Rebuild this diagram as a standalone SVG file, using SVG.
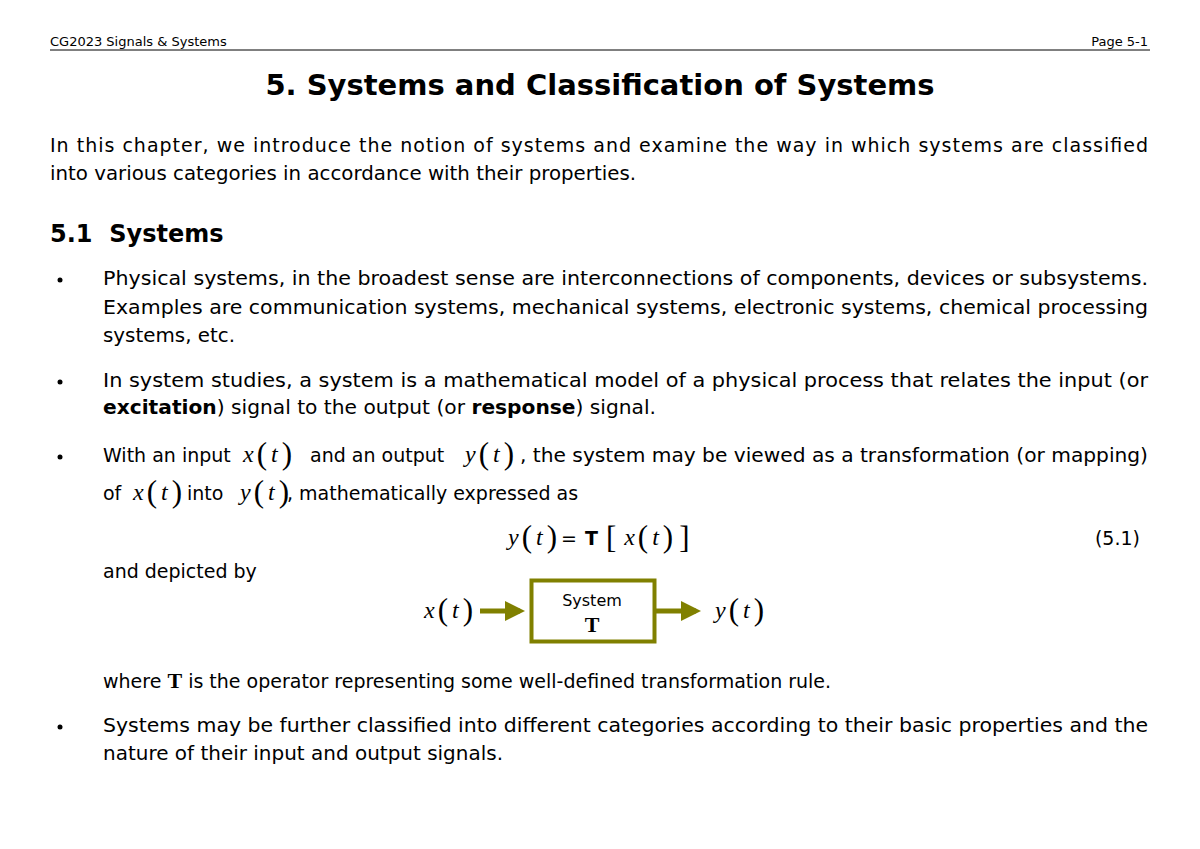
<svg xmlns="http://www.w3.org/2000/svg" width="1200" height="849" viewBox="0 0 1200 849">
<defs>
<style>
.t{font-family:"DejaVu Sans",sans-serif;font-size:19px;fill:#000;font-style:normal}
.b{font-weight:bold}
.m{font-family:"Liberation Serif",serif;font-size:24px;font-style:italic;fill:#000}
.p{font-family:"Liberation Serif",serif;font-size:31px;font-weight:normal;font-style:normal;fill:#000}
.ln{stroke:#808000;stroke-width:5;fill:none}
</style>
<marker id="ah" markerWidth="4" markerHeight="4" refX="3" refY="2" orient="auto" markerUnits="strokeWidth"><path d="M0,0 L4,2 L0,4 z" fill="#808000"/></marker>
</defs>
<rect width="1200" height="849" fill="#fff"/>
<text x="50" y="46" class="t" style="font-size:13px">CG2023 Signals &amp; Systems</text>
<text x="1148" y="46" class="t" style="font-size:13px" text-anchor="end">Page 5-1</text>
<line x1="50" y1="50" x2="1150" y2="50" stroke="#000" stroke-width="1"/>
<text x="600" y="95" class="t b" style="font-size:29px" text-anchor="middle">5. Systems and Classification of Systems</text>
<text x="50" y="152" class="t" textLength="1098" lengthAdjust="spacing">In this chapter, we introduce the notion of systems and examine the way in which systems are classified</text>
<text x="50" y="180" class="t" textLength="586" lengthAdjust="spacingAndGlyphs">into various categories in accordance with their properties.</text>
<text x="50" y="242" class="t b" style="font-size:24px" xml:space="preserve">5.1  Systems</text>
<g class="t">
<circle cx="60" cy="280" r="2.5"/>
<circle cx="60" cy="382" r="2.5"/>
<circle cx="60" cy="457" r="2.5"/>
<circle cx="60" cy="727" r="2.5"/>
</g>
<text x="103" y="285" class="t" textLength="1045" lengthAdjust="spacingAndGlyphs">Physical systems, in the broadest sense are interconnections of components, devices or subsystems.</text>
<text x="103" y="314" class="t" textLength="1045" lengthAdjust="spacingAndGlyphs">Examples are communication systems, mechanical systems, electronic systems, chemical processing</text>
<text x="103" y="342" class="t" textLength="132" lengthAdjust="spacingAndGlyphs">systems, etc.</text>
<text x="103" y="387" class="t" textLength="1045" lengthAdjust="spacingAndGlyphs">In system studies, a system is a mathematical model of a physical process that relates the input (or</text>
<text x="103" y="414" class="t" textLength="553" lengthAdjust="spacingAndGlyphs"><tspan class="b">excitation</tspan>) signal to the output (or <tspan class="b">response</tspan>) signal.</text>
<text x="103" y="462" class="t">With an input</text>
<text x="243" y="462" class="m">x<tspan class="p" dx="3" dy="2">(</tspan><tspan dx="4" dy="-2">t</tspan><tspan class="p" dx="4" dy="2">)</tspan></text>
<text x="310" y="462" class="t">and an output</text>
<text x="465" y="462" class="m">y<tspan class="p" dx="3" dy="2">(</tspan><tspan dx="4" dy="-2">t</tspan><tspan class="p" dx="4" dy="2">)</tspan></text>
<text x="520" y="462" class="t" textLength="628" lengthAdjust="spacingAndGlyphs">, the system may be viewed as a transformation (or mapping)</text>
<text x="103" y="500" class="t">of</text>
<text x="133" y="500" class="m">x<tspan class="p" dx="3" dy="2">(</tspan><tspan dx="4" dy="-2">t</tspan><tspan class="p" dx="4" dy="2">)</tspan></text>
<text x="187" y="500" class="t">into</text>
<text x="240" y="500" class="m">y<tspan class="p" dx="3" dy="2">(</tspan><tspan dx="4" dy="-2">t</tspan><tspan class="p" dx="4" dy="2">)</tspan></text>
<text x="287" y="500" class="t">, mathematically expressed as</text>
<text x="508" y="545" class="m">y<tspan class="p" dx="3" dy="2">(</tspan><tspan dx="4" dy="-2">t</tspan><tspan class="p" dx="4" dy="2">)</tspan><tspan class="t" dy="-2" dx="4">=</tspan><tspan class="t b" dx="8">T</tspan><tspan class="p" dx="8" dy="3">[</tspan><tspan dx="8" dy="-3">x</tspan><tspan class="p" dx="3" dy="2">(</tspan><tspan dx="4" dy="-2">t</tspan><tspan class="p" dx="4" dy="2">)</tspan><tspan class="p" dx="6" dy="1">]</tspan></text>
<text x="1140" y="545" class="t" text-anchor="end">(5.1)</text>
<text x="103" y="578" class="t">and depicted by</text>
<g id="connectors">
<line x1="480" y1="611" x2="520" y2="611" class="ln" marker-end="url(#ah)"/>
<line x1="655" y1="611" x2="696" y2="611" class="ln" marker-end="url(#ah)"/>
</g>
<g id="in"><text x="424" y="618" class="m">x<tspan class="p" dx="3" dy="2">(</tspan><tspan dx="4" dy="-2">t</tspan><tspan class="p" dx="4" dy="2">)</tspan></text></g>
<g id="system">
<rect x="531.5" y="580.5" width="123" height="61" fill="#fff" stroke="#808000" stroke-width="4"/>
<text x="592" y="606" class="t" style="font-size:16px" text-anchor="middle">System</text>
<text x="592" y="632" font-family="Liberation Serif,serif" font-size="22" font-weight="bold" text-anchor="middle">T</text>
</g>
<g id="out"><text x="715" y="618" class="m">y<tspan class="p" dx="3" dy="2">(</tspan><tspan dx="4" dy="-2">t</tspan><tspan class="p" dx="4" dy="2">)</tspan></text></g>
<text x="103" y="688" class="t">where <tspan font-family="Liberation Serif,serif" font-weight="bold" font-size="22">T</tspan> is the operator representing some well-defined transformation rule.</text>
<text x="103" y="732" class="t" textLength="1045" lengthAdjust="spacingAndGlyphs">Systems may be further classified into different categories according to their basic properties and the</text>
<text x="103" y="760" class="t" textLength="400" lengthAdjust="spacingAndGlyphs">nature of their input and output signals.</text>
</svg>
